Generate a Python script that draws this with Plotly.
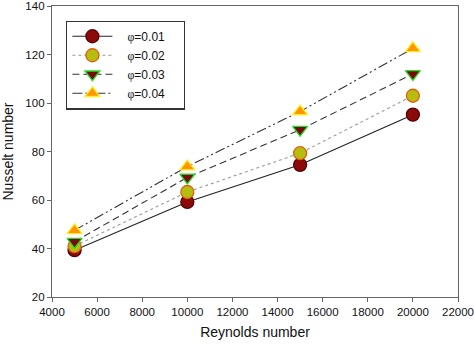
import plotly.graph_objects as go

reynolds = [5000, 10000, 15000, 20000]
nu_001 = [39.3, 59.2, 74.5, 95.2]
nu_002 = [41.0, 63.3, 79.3, 103.0]
nu_003 = [42.8, 69.3, 89.0, 112.0]
nu_004 = [47.5, 73.8, 96.5, 122.5]
labels = ["φ=0.01", "φ=0.02", "φ=0.03", "φ=0.04"]
x_ticks = [4000, 6000, 8000, 10000, 12000, 14000, 16000, 18000, 20000, 22000]
y_ticks = [20, 40, 60, 80, 100, 120, 140]

series = [
    (nu_001, "solid", "#222222", "circle", "#8B0A0A", "#5a0000", 13),
    (nu_002, "dot", "#9a9a9a", "circle", "#B5BE10", "#E06010", 13),
    (nu_003, "7px,4px", "#333333", "triangle-down", "#7a0a0a", "#22DD22", 13),
    (nu_004, "10px,3px,2px,3px,2px,3px", "#333333", "triangle-up", "#FF9500", "#FFEE22", 13),
]

fig = go.Figure()
for (y, dash, lc, sym, fc, oc, sz), lab in zip(series, labels):
    fig.add_trace(go.Scatter(
        x=reynolds, y=y, mode="lines+markers",
        name='&nbsp;&nbsp;&nbsp;<span style="font-family:Liberation Serif">φ</span>'
             + lab[1:] + '&nbsp;&nbsp;&nbsp;&nbsp;',
        line=dict(color=lc, width=1.1, dash=dash),
        marker=dict(symbol=sym, size=sz, color=fc, line=dict(color=oc, width=1.3)),
    ))

fig.update_layout(
    width=474, height=344,
    margin=dict(l=52, r=16, t=6, b=47),
    paper_bgcolor="white", plot_bgcolor="white",
    font=dict(family="Liberation Sans, Arial", size=11.5, color="#111111"),
    showlegend=True,
    legend=dict(x=0.035, y=0.95, xanchor="left", yanchor="top",
                bordercolor="#333333", borderwidth=1.2, bgcolor="white",
                font=dict(size=12), itemwidth=40, tracegroupgap=0),
    xaxis=dict(range=[4000, 22000], tickvals=x_ticks, ticktext=[str(v) for v in x_ticks],
               showgrid=False, zeroline=False, showline=True, linecolor="#666666",
               linewidth=1.3, mirror=True, ticks="outside", ticklen=4,
               tickcolor="#666666", automargin=False, ticklabeloverflow="allow",
               title=dict(text="Reynolds number", font=dict(size=14), standoff=10)),
    yaxis=dict(range=[20, 140], tickvals=y_ticks, ticktext=[str(v) for v in y_ticks],
               showgrid=False, zeroline=False, showline=True, linecolor="#666666",
               linewidth=1.3, mirror=True, ticks="outside", ticklen=4,
               tickcolor="#666666", automargin=False, ticklabeloverflow="allow",
               title=dict(text="Nusselt number", font=dict(size=14), standoff=10)),
)

fig.write_html("out.html")
